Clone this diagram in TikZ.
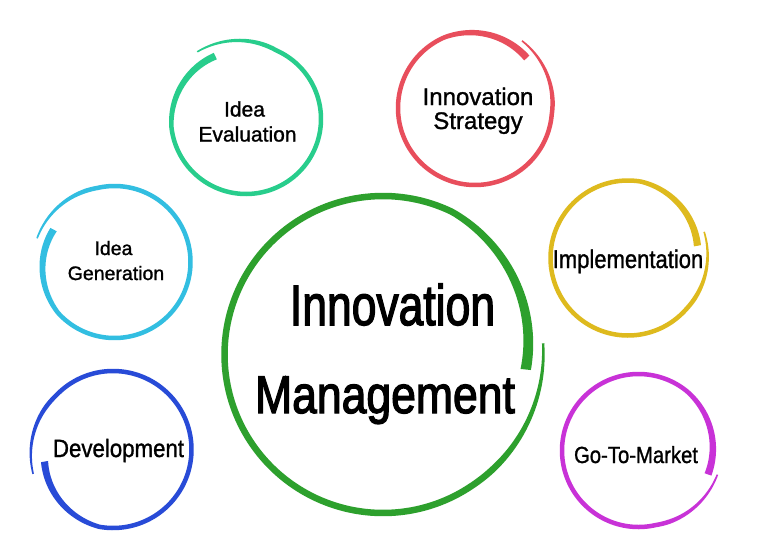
\documentclass[tikz,border=0pt]{standalone}
\usepackage{fontspec}
\usepackage{graphicx}
\setmainfont[FakeBold=1.2]{Liberation Sans}
\newfontfamily\bigfont[FakeBold=2.6]{Liberation Sans}
\definecolor{cEval}{RGB}{40,205,140}
\definecolor{cStrat}{RGB}{232,78,92}
\definecolor{cGen}{RGB}{50,190,225}
\definecolor{cImpl}{RGB}{222,186,30}
\definecolor{cDev}{RGB}{40,75,215}
\definecolor{cGtm}{RGB}{200,50,215}
\definecolor{cMain}{RGB}{45,160,45}
% #1 colour, #2 cx, #3 cy, #4 R, #5 start angle, #6 sweep, #7 outer offset, #8 inner offset, #9 width
\newcommand{\brushring}[9]{%
  \begin{scope}[declare function={
      rr(\t)=#4+#7*max(0,1-\t/60)-#8*max(0,1-(#6-\t)/70);
      ww(\t)=(#9)*(0.35+0.65*min(1,\t/50)+0.6*max(0,1-(#6-\t)/70));}]
    \fill[#1] plot[domain=0:#6,samples=200,variable=\t]
        ({#2+(rr(\t)+ww(\t)/2)*cos(#5+\t)},{#3+(rr(\t)+ww(\t)/2)*sin(#5+\t)})
      -- plot[domain=#6:0,samples=200,variable=\t]
        ({#2+(rr(\t)-ww(\t)/2)*cos(#5+\t)},{#3+(rr(\t)-ww(\t)/2)*sin(#5+\t)})
      -- cycle;
  \end{scope}}
\newcommand{\lbl}[3]{\fontsize{#1}{#1}\selectfont\scalebox{#2}[1]{#3}}
\tikzset{txt/.style={anchor=base,inner sep=0pt,text=black}}
\begin{document}
\begin{tikzpicture}[x=1pt,y=-1pt]
  \fill[white] (0,0) rectangle (768,552);
  \useasboundingbox (0,0) rectangle (768,552);
  % rings
  \brushring{cEval}{246}{119}{75}{-126}{370}{8}{5}{4.5}
  \brushring{cStrat}{475}{108}{77}{-55}{371}{5}{5}{4.5}
  \brushring{cGen}{114.5}{262}{76}{-163}{371}{5}{7}{4.5}
  \brushring{cImpl}{628}{258}{77.5}{-19}{369}{3}{7}{4.5}
  \brushring{cDev}{113}{449.5}{78.5}{163}{367}{5}{9}{4.5}
  \brushring{cGtm}{638.5}{450.5}{76.5}{17}{362}{6}{3}{4.5}
  \brushring{cMain}{383}{354.5}{158.5}{-4}{370}{2}{15}{6.5}
  % labels
  \node[txt] (m1) at (392.5,325) {\bigfont\lbl{57}{0.78}{Innovation}};
  \node[txt] (m2) at (385,413) {\bigfont\lbl{53}{0.84}{Management}};
  \node[txt] (e1) at (244.5,116.5) {\lbl{21}{1}{Idea}};
  \node[txt] (e2) at (247.5,141.5) {\lbl{21}{1}{Evaluation}};
  \node[txt] (s1) at (478,105) {\lbl{24}{1}{Innovation}};
  \node[txt] (s2) at (478,129) {\lbl{24}{1}{Strategy}};
  \node[txt] (g1) at (113.5,255) {\lbl{19.5}{1}{Idea}};
  \node[txt] (g2) at (116,280) {\lbl{19.5}{1}{Generation}};
  \node[txt] (im) at (628,268) {\lbl{25.6}{0.86}{Implementation}};
  \node[txt] (dv) at (118.5,457) {\lbl{25}{0.89}{Development}};
  \node[txt] (gm) at (636,463) {\lbl{23.3}{0.87}{Go-To-Market}};
\end{tikzpicture}
\end{document}
